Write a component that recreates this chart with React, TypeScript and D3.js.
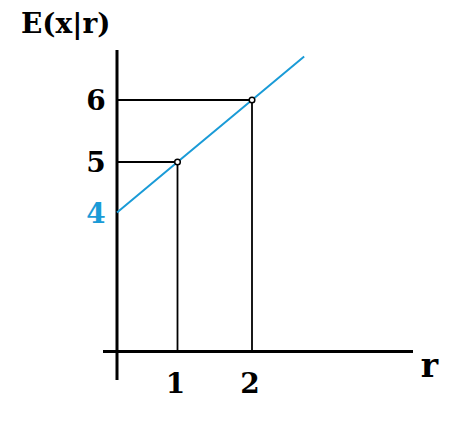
import React from "react";
import * as d3 from "d3";

// ---- data ----
const rTicks = [1, 2];
const eTicks = [4, 5, 6];
const points: [number, number][] = [
  [1, 5],
  [2, 6],
];
const lineR = [0, 1, 2, 2.7];
const lineE = [4, 5, 6, 6.7];
const yLabel = "E(x|r)";
const xLabel = "r";

const W = 474;
const H = 427;
const axisX = 117; // y-axis position (px)
const axisY = 351.5; // x-axis position (px)
const font = "'DejaVu Serif', serif";
const blue = "#1a9bd7";

export default function App() {
  const x = d3.scaleLinear().domain([0, 1, 2]).range([117, 177.5, 252]);
  const y = d3.scaleLinear().domain([4, 5, 6]).range([212.5, 162, 100]);

  const line = d3
    .line<number>()
    .x((_, i) => x(lineR[i]))
    .y((d) => y(d));

  return (
    <svg
      width={W}
      height={H}
      style={{ position: "absolute", left: 0, top: 0, background: "#fff" }}
    >
      {/* guide lines */}
      {points.map(([r, e], i) => (
        <g key={i} stroke="#000" strokeWidth={1.8} fill="none">
          <line x1={axisX} x2={x(r)} y1={y(e)} y2={y(e)} />
          <line x1={x(r)} x2={x(r)} y1={y(e)} y2={axisY} />
        </g>
      ))}

      {/* axes */}
      <line x1={axisX} x2={axisX} y1={50} y2={380} stroke="#000" strokeWidth={3} />
      <line x1={103} x2={413} y1={axisY} y2={axisY} stroke="#000" strokeWidth={3} />

      {/* regression line */}
      <path d={line(lineE) ?? ""} stroke={blue} strokeWidth={2} fill="none" />

      {/* points */}
      {points.map(([r, e], i) => (
        <circle
          key={i}
          cx={x(r)}
          cy={y(e)}
          r={2.8}
          fill="#fff"
          stroke="#000"
          strokeWidth={1.5}
        />
      ))}

      {/* tick labels */}
      {rTicks.map((t) => (
        <text
          key={t}
          x={x(t) - 2}
          y={393}
          textAnchor="middle"
          fontFamily={font}
          fontWeight="bold"
          fontSize={28}
          fill="#000"
        >
          {t}
        </text>
      ))}
      {eTicks.map((t) => (
        <text
          key={t}
          x={96}
          y={y(t) + 10}
          textAnchor="middle"
          fontFamily={font}
          fontWeight="bold"
          fontSize={28}
          fill={t === 4 ? blue : "#000"}
        >
          {t}
        </text>
      ))}

      {/* axis labels */}
      <text
        x={21}
        y={33}
        fontFamily={font}
        fontWeight="bold"
        fontSize={28}
        fill="#000"
      >
        {yLabel}
      </text>
      <text
        x={429.5}
        y={377}
        textAnchor="middle"
        fontFamily={font}
        fontWeight="bold"
        fontSize={33}
        fill="#000"
      >
        {xLabel}
      </text>
    </svg>
  );
}
